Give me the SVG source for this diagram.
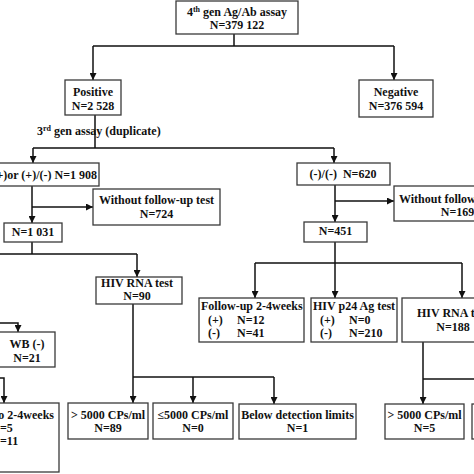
<svg xmlns="http://www.w3.org/2000/svg" width="474" height="474" viewBox="0 0 474 474">
<style>
.b{fill:#fff;stroke:#3a3a3a;stroke-width:1.3}
text{font-family:"Liberation Serif","Times New Roman",serif;font-weight:bold;font-size:12px;fill:#111}
.c{text-anchor:middle}
.e{text-anchor:end}
.l{fill:none;stroke:#111;stroke-width:1.5}
</style>
<defs>
<marker id="ar" viewBox="0 0 10 10" refX="10" refY="5" markerWidth="7" markerHeight="7" markerUnits="userSpaceOnUse" orient="auto">
<path d="M0,0 L10,5 L0,10 z" fill="#111"/>
</marker>
</defs>
<rect width="474" height="474" fill="#fff"/>
<g id="connectors">
<path class="l" d="M234,34 V46 M93,46 H394"/>
<path class="l" d="M93,46 V80" marker-end="url(#ar)"/>
<path class="l" d="M394,46 V80" marker-end="url(#ar)"/>
<path class="l" d="M95,115 V148 M33,148 H334"/>
<path class="l" d="M33,148 V163" marker-end="url(#ar)"/>
<path class="l" d="M334,148 V163" marker-end="url(#ar)"/>
<path class="l" d="M32,186 V223" marker-end="url(#ar)"/>
<path class="l" d="M32,207 H93" marker-end="url(#ar)"/>
<path class="l" d="M335,185 V222" marker-end="url(#ar)"/>
<path class="l" d="M335,201 H394" marker-end="url(#ar)"/>
<path class="l" d="M32,242 V254 M0,254 H137"/>
<path class="l" d="M137,254 V277" marker-end="url(#ar)"/>
<path class="l" d="M0,323 H18 V332" marker-end="url(#ar)"/>
<path class="l" d="M0,378 H4 V403" marker-end="url(#ar)"/>
<path class="l" d="M133,304 V403" marker-end="url(#ar)"/>
<path class="l" d="M133,377 H274"/>
<path class="l" d="M193,377 V403" marker-end="url(#ar)"/>
<path class="l" d="M274,377 V404" marker-end="url(#ar)"/>
<path class="l" d="M335,242 V263 M255,263 H462"/>
<path class="l" d="M255,263 V298" marker-end="url(#ar)"/>
<path class="l" d="M335,263 V298" marker-end="url(#ar)"/>
<path class="l" d="M462,263 V298" marker-end="url(#ar)"/>
<path class="l" d="M423,342 V404" marker-end="url(#ar)"/>
<path class="l" d="M423,379 H474"/>
<text x="37" y="135">3<tspan font-size="8" dy="-4">rd</tspan><tspan dy="4"> gen assay (duplicate)</tspan></text>
</g>
<g id="n-top"><rect class="b" x="176" y="1" width="122" height="33"/>
<text class="c" x="237" y="16">4<tspan font-size="8" dy="-4">th</tspan><tspan dy="4"> gen Ag/Ab assay</tspan></text>
<text class="c" x="237" y="29">N=379 122</text></g>
<g id="n-positive"><rect class="b" x="65" y="80" width="56" height="35"/>
<text class="c" x="93" y="96">Positive</text><text class="c" x="93" y="110">N=2 528</text></g>
<g id="n-negative"><rect class="b" x="359" y="80" width="74" height="37"/>
<text class="c" x="396" y="96">Negative</text><text class="c" x="396" y="110">N=376 594</text></g>
<g id="n-1908"><rect class="b" x="-5" y="163" width="104" height="23"/>
<text class="e" x="97" y="179">+)or (+)/(-) N=1 908</text></g>
<g id="n-724"><rect class="b" x="93" y="189" width="127" height="36"/>
<text class="c" x="156.5" y="204">Without follow-up test</text><text class="c" x="156.5" y="218">N=724</text></g>
<g id="n-1031"><rect class="b" x="4" y="223" width="58" height="19"/>
<text class="c" x="33" y="236">N=1 031</text></g>
<g id="n-620"><rect class="b" x="297" y="163" width="93" height="22"/>
<text class="c" x="343" y="178" xml:space="preserve">(-)/(-)  N=620</text></g>
<g id="n-169"><rect class="b" x="394" y="186" width="127" height="35"/>
<text x="399" y="203">Without follow-up test</text><text class="c" x="457.5" y="216">N=169</text></g>
<g id="n-451"><rect class="b" x="304" y="222" width="63" height="20"/>
<text class="c" x="335.5" y="235">N=451</text></g>
<g id="n-rna90"><rect class="b" x="96" y="277" width="86" height="27"/>
<text class="c" x="137" y="287">HIV RNA test</text><text class="c" x="137" y="300">N=90</text></g>
<g id="n-follow"><rect class="b" x="199" y="298" width="105" height="44"/>
<text x="201" y="310">Follow-up 2-4weeks</text>
<text x="208" y="324">(+)</text><text x="237" y="324">N=12</text>
<text x="208" y="337">(-)</text><text x="237" y="337">N=41</text></g>
<g id="n-p24"><rect class="b" x="311" y="298" width="86" height="44"/>
<text x="313" y="310">HIV p24 Ag test</text>
<text x="320" y="324">(+)</text><text x="349" y="324">N=0</text>
<text x="320" y="337">(-)</text><text x="349" y="337">N=210</text></g>
<g id="n-rna188"><rect class="b" x="402" y="298" width="103" height="44"/>
<text x="417" y="317">HIV RNA test</text><text class="c" x="453" y="331">N=188</text></g>
<g id="n-wb"><rect class="b" x="-5" y="332" width="60" height="35"/>
<text class="c" x="27" y="348">WB (-)</text><text class="c" x="27" y="362">N=21</text></g>
<g id="n-follow2"><rect class="b" x="-5" y="403" width="64" height="69"/>
<text class="e" x="54" y="419">o 2-4weeks</text>
<text x="0" y="432">=5</text><text x="0" y="445">=11</text></g>
<g id="n-gt89"><rect class="b" x="68" y="403" width="80" height="36"/>
<text class="c" x="108" y="419">&gt; 5000 CPs/ml</text><text class="c" x="108" y="432">N=89</text></g>
<g id="n-le0"><rect class="b" x="153" y="403" width="80" height="36"/>
<text class="c" x="193" y="419">≤5000 CPs/ml</text><text class="c" x="193" y="432">N=0</text></g>
<g id="n-below"><rect class="b" x="239" y="404" width="117" height="35"/>
<text class="c" x="297.5" y="419">Below detection limits</text><text class="c" x="297.5" y="432">N=1</text></g>
<g id="n-gt5"><rect class="b" x="385" y="404" width="79" height="35"/>
<text class="c" x="424.5" y="419">&gt; 5000 CPs/ml</text><text class="c" x="424.5" y="432">N=5</text></g>
<g id="n-edge"><rect class="b" x="472" y="404" width="80" height="35"/></g>
</svg>
